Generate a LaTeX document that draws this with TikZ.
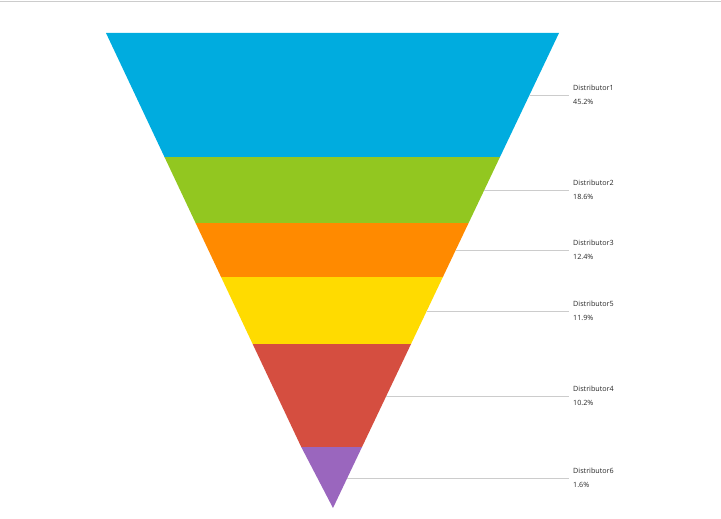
\documentclass[tikz,border=0pt]{standalone}
\usepackage{fontspec}
\setmainfont{Open Sans}
\definecolor{cA}{HTML}{00ACDF}
\definecolor{cB}{HTML}{92C720}
\definecolor{cC}{HTML}{FF8A00}
\definecolor{cD}{HTML}{FFDB00}
\definecolor{cE}{HTML}{D54E40}
\definecolor{cF}{HTML}{9A66BE}
\definecolor{ln}{HTML}{CCCCCC}
\begin{document}
\begin{tikzpicture}[x=1pt,y=-1pt,
  lbl/.style={anchor=west,align=left,inner sep=0pt,font=\fontsize{7.2}{13.5}\selectfont,text=black!85},
  lead/.style={draw=ln,line width=0.6pt}]
\useasboundingbox (0,0) rectangle (721,519);
\draw[ln,line width=0.6pt] (0,1) -- (721,1);
\def\rx#1{559-0.4758*(#1-33)}
\def\lx#1{106+0.4716*(#1-33)}
\fill[cA] (106,33) -- (559,33) -- ({\rx{157}},157) -- ({\lx{157}},157) -- cycle;
\fill[cB] ({\lx{157}},157) -- ({\rx{157}},157) -- ({\rx{223}},223) -- ({\lx{223}},223) -- cycle;
\fill[cC] ({\lx{223}},223) -- ({\rx{223}},223) -- ({\rx{277}},277) -- ({\lx{277}},277) -- cycle;
\fill[cD] ({\lx{277}},277) -- ({\rx{277}},277) -- ({\rx{344}},344) -- ({\lx{344}},344) -- cycle;
\fill[cE] ({\lx{344}},344) -- ({\rx{344}},344) -- ({\rx{447}},447) -- ({\lx{447}},447) -- cycle;
\fill[cF] ({\lx{447}},447) -- ({\rx{447}},447) -- (333,508) -- cycle;
\foreach \n/\y/\t/\p in {a/95/Distributor1/45.2\%, b/190/Distributor2/18.6\%, c/250/Distributor3/12.4\%, d/311/Distributor5/11.9\%, e/396/Distributor4/10.2\%, f/478/Distributor6/1.6\%}{
  \coordinate (s\n) at ({\rx{\y}},\y);
  \node[lbl] (l\n) at (573,\y) {\t\\\p};
  \draw[lead] (s\n) -- (l\n.west -| 569,0);
}
\end{tikzpicture}
\end{document}
